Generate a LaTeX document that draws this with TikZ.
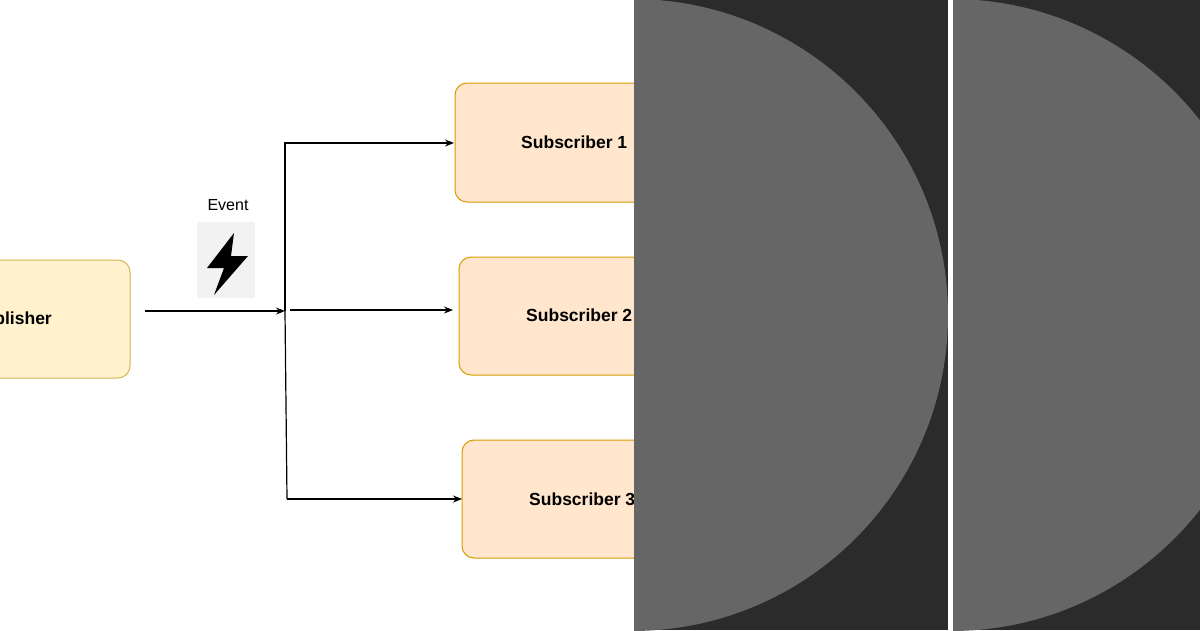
\documentclass[tikz,border=0pt]{standalone}
\usepackage{fontspec}
\setmainfont{Liberation Sans}
\definecolor{pubfill}{HTML}{FFF2CC}
\definecolor{publine}{HTML}{D6B656}
\definecolor{subfill}{HTML}{FFE6CC}
\definecolor{subline}{HTML}{D79B00}
\definecolor{dark}{HTML}{2B2B2B}
\definecolor{disk}{HTML}{666666}
\tikzset{
 pub/.style={draw=publine,fill=pubfill,rounded corners=12pt,line width=1pt},
 sub/.style={draw=subline,fill=subfill,rounded corners=12pt,line width=1pt},
 lbl/.style={font=\bfseries\fontsize{17.5pt}{20pt}\selectfont,inner sep=0pt},
 conn/.style={line width=1.2pt,-{Stealth[length=9pt,width=7pt]}}
}
\usetikzlibrary{arrows.meta}
\begin{document}
\begin{tikzpicture}[x=1pt,y=-1pt]
\useasboundingbox (0,0) rectangle (1200,630);
\fill[white] (0,0) rectangle (634,630);
\begin{scope}
\clip (0,0) rectangle (634,630);
\draw[pub] (-110,260) rectangle (130,378);
\node[lbl,anchor=east] (pubt) at (52,318) {Publisher};
\draw[sub] (455,83) rectangle (695,202);
\node[lbl,anchor=west] (s1) at (521,142) {Subscriber 1};
\draw[sub] (459,257) rectangle (699,375);
\node[lbl,anchor=west] (s2) at (526,315) {Subscriber 2};
\draw[sub] (462,440) rectangle (702,558);
\node[lbl,anchor=west] (s3) at (529,499) {Subscriber 3};
\end{scope}
\coordinate (pubR) at (145,311);
\coordinate (j) at (285,311);
\coordinate (e1) at (454,143);
\coordinate (e2) at (453,310);
\coordinate (e3) at (462,499);
\draw[conn] (pubR) -- (j);
\draw[conn] (j) |- (e1);
\draw[conn] (290,310) -- (e2);
\draw[line width=1.2pt] (j) -- (287,499);
\draw[conn] (287,499) -- (e3);
\node (ev) at (228,205) {\fontsize{16pt}{18pt}\selectfont Event};
\fill[black!5] (197,222) rectangle (255,298);
\fill[black] (234,233) -- (207,268) -- (224,268) -- (214,295) -- (248,256) -- (231,256) -- cycle;
\fill[dark] (634,0) rectangle (1200,630);
\begin{scope}
\clip (634,0) rectangle (948,630);
\fill[disk] (632,315) circle (316);
\end{scope}
\fill[white] (948,0) rectangle (953,630);
\begin{scope}
\clip (953,0) rectangle (1200,630);
\fill[disk] (951,315) circle (316);
\end{scope}
\end{tikzpicture}
\end{document}
